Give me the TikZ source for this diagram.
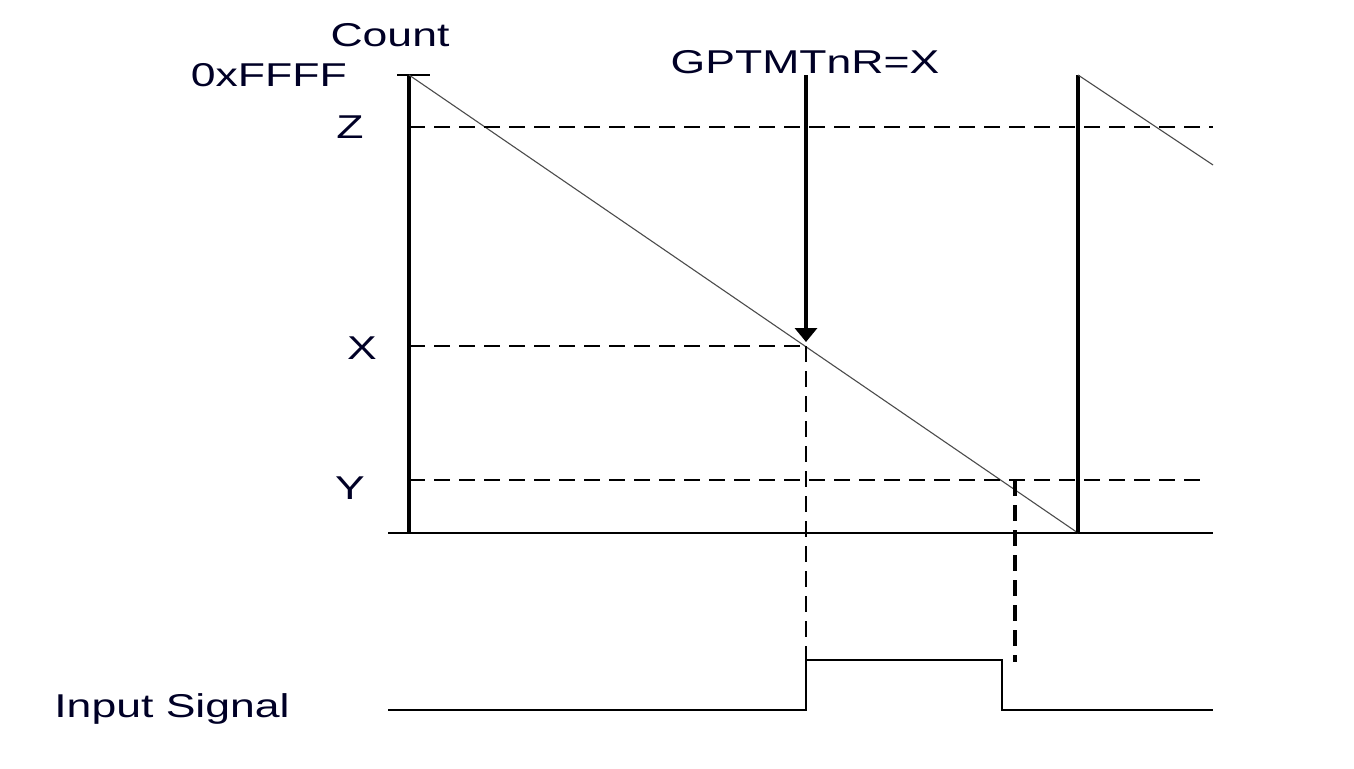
\documentclass[tikz,border=0pt]{standalone}
\usepackage{fontspec}
\setmainfont{Liberation Sans}
\usetikzlibrary{arrows.meta}
\begin{document}
\begin{tikzpicture}[x=1pt,y=-1pt,
  lbl/.style={font=\fontsize{33}{36}\selectfont, text=black!85!blue, xscale=1.35, inner sep=0pt},
  dsh/.style={dashed, dash pattern=on 16pt off 9pt, line width=1.5pt},
  thk/.style={line width=3.4pt},
  ramp/.style={line width=1.1pt, black!70}]
\useasboundingbox (0,0) rectangle (1354,768);
\fill[white] (0,0) rectangle (1354,768);
\node[lbl] (count) at (390,35) {Count};
\node[lbl,anchor=east] (ffff) at (347,75) {0xFFFF};
\node[lbl] (z) at (350,127) {Z};
\node[lbl] (x) at (362,348) {X};
\node[lbl] (y) at (350,488) {Y};
\node[lbl] (g) at (805,62) {GPTMTnR=X};
\node[lbl] (inp) at (172,709) {Input Signal};
\coordinate (top) at (409,75);
\coordinate (bot) at (409,533);
\coordinate (zero) at (1078,533);
\coordinate (top2) at (1078,75);
\coordinate (xp) at (806,346);
\coordinate (yp) at (1015,480);
\draw[line width=1.5pt] (397,75) -- (430,75);
\draw[thk] (top) -- (bot);
\draw[line width=2pt] (388,533) -- (1213,533);
\draw[ramp] (top) -- (zero);
\draw[thk] (zero) -- (top2);
\draw[ramp] (top2) -- (1213,165);
\draw[dsh] (409,127) -- (1213,127);
\draw[dsh] (409,346) -- (xp);
\draw[dsh] (409,480) -- (1203,480);
\draw[thk,-{Triangle[length=14pt,width=22pt]}] (806,75) -- (806,342);
\draw[dsh] (xp) -- (806,660);
\draw[dsh,line width=4pt] (yp) -- (1015,662);
\draw[line width=2pt] (388,710) -- (806,710) -- (806,660) -- (1002,660) -- (1002,710) -- (1213,710);
\end{tikzpicture}
\end{document}
